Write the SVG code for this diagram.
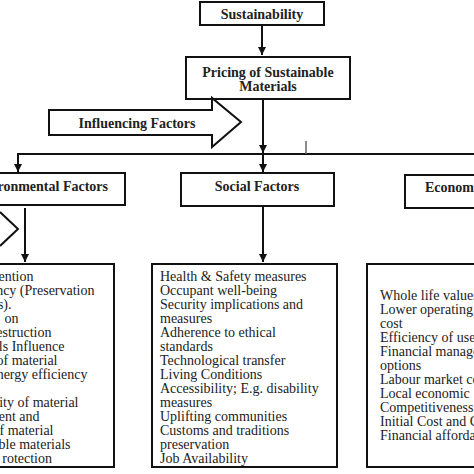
<svg xmlns="http://www.w3.org/2000/svg" width="474" height="474" viewBox="0 0 474 474">
<defs>
<marker id="ah" viewBox="0 0 8 8" refX="8" refY="4" markerWidth="8" markerHeight="8" markerUnits="userSpaceOnUse" orient="auto">
<path d="M0,0 L8,4 L0,8 Z" fill="#111"/>
</marker>
<style>
.box{fill:#fff;stroke:#111;stroke-width:2}
.hd{font-family:"Liberation Serif","Times New Roman",serif;font-weight:bold;font-size:14px;fill:#222}
.tx{font-family:"Liberation Serif","Times New Roman",serif;font-size:14px;fill:#222}
.ln{stroke:#111;stroke-width:2;fill:none}
</style>
</defs>
<rect width="474" height="474" fill="#fff"/>

<g id="connectors">
<path class="ln" d="M262,26 V55" marker-end="url(#ah)"/>
<path class="ln" d="M263,99 V153" marker-end="url(#ah)"/>
<path class="ln" d="M263,154 V172" marker-end="url(#ah)"/>
<path class="ln" d="M18,172 V154 H474"/>
<path class="ln" d="M18,160 V172" marker-end="url(#ah)"/>
<path class="ln" d="M25,208 V262" marker-end="url(#ah)"/>
<path class="ln" d="M263,207 V262" marker-end="url(#ah)"/>
<path d="M306,141 V154" stroke="#666" stroke-width="1.5"/>
</g>

<g id="sustainability">
<rect class="box" x="200" y="2" width="124" height="23"/>
<text class="hd" x="262" y="19" text-anchor="middle">Sustainability</text>
</g>

<g id="pricing">
<rect class="box" x="186" y="57" width="164" height="42"/>
<text class="hd" x="268" y="77" text-anchor="middle">Pricing of Sustainable</text>
<text class="hd" x="268" y="91" text-anchor="middle">Materials</text>
</g>

<g id="influencing">
<polygon class="box" points="49,110 212,110 212,98 241,122 212,147 212,135 49,135"/>
<text class="hd" x="137" y="128" text-anchor="middle">Influencing Factors</text>
</g>

<g id="left-arrow">
<polyline class="ln" points="0,212 18,229 0,246"/>
</g>

<g id="env-header">
<rect class="box" x="-40" y="173" width="165" height="32"/>
<text class="hd" x="108" y="191" text-anchor="end">Environmental Factors</text>
</g>

<g id="social-header">
<rect class="box" x="181" y="173" width="153" height="33"/>
<text class="hd" x="257" y="191" text-anchor="middle">Social Factors</text>
</g>

<g id="econ-header">
<rect class="box" x="405" y="175" width="100" height="33"/>
<text class="hd" x="425" y="192">Economic Factors</text>
</g>

<g id="env-list">
<rect class="box" x="-40" y="264" width="154" height="203"/>
<text class="tx" text-anchor="end">
<tspan x="37" y="281">vention</tspan>
<tspan x="98" y="295">ncy (Preservation</tspan>
<tspan x="15" y="309">s).</tspan>
<tspan x="22" y="323">on</tspan>
<tspan x="55" y="337">estruction</tspan>
<tspan x="68" y="351">ls Influence</tspan>
<tspan x="61" y="365">of material</tspan>
<tspan x="91" y="379">nergy efficiency</tspan>
<tspan x="82" y="407">ity of material</tspan>
<tspan x="43" y="421">ent and</tspan>
<tspan x="57" y="435">f material</tspan>
<tspan x="74" y="449">vable materials</tspan>
<tspan x="52" y="463">rotection</tspan>
</text>
</g>

<g id="social-list">
<rect class="box" x="152" y="264" width="185" height="203"/>
<text class="tx">
<tspan x="160" y="281">Health &amp; Safety measures</tspan>
<tspan x="160" y="295">Occupant well-being</tspan>
<tspan x="160" y="309">Security implications and</tspan>
<tspan x="160" y="323">measures</tspan>
<tspan x="160" y="337">Adherence to ethical</tspan>
<tspan x="160" y="351">standards</tspan>
<tspan x="160" y="365">Technological transfer</tspan>
<tspan x="160" y="379">Living Conditions</tspan>
<tspan x="160" y="393">Accessibility; E.g. disability</tspan>
<tspan x="160" y="407">measures</tspan>
<tspan x="160" y="421">Uplifting communities</tspan>
<tspan x="160" y="435">Customs and traditions</tspan>
<tspan x="160" y="449">preservation</tspan>
<tspan x="160" y="463">Job Availability</tspan>
</text>
</g>

<g id="econ-list">
<rect class="box" x="367" y="264" width="140" height="203"/>
<text class="tx">
<tspan x="380" y="300">Whole life values</tspan>
<tspan x="380" y="314">Lower operating,</tspan>
<tspan x="380" y="328">cost</tspan>
<tspan x="380" y="342">Efficiency of use</tspan>
<tspan x="380" y="356">Financial management</tspan>
<tspan x="380" y="370">options</tspan>
<tspan x="380" y="384">Labour market conditions</tspan>
<tspan x="380" y="398">Local economic</tspan>
<tspan x="380" y="412">Competitiveness</tspan>
<tspan x="380" y="426">Initial Cost and Capital</tspan>
<tspan x="380" y="440">Financial affordability</tspan>
</text>
</g>
</svg>
